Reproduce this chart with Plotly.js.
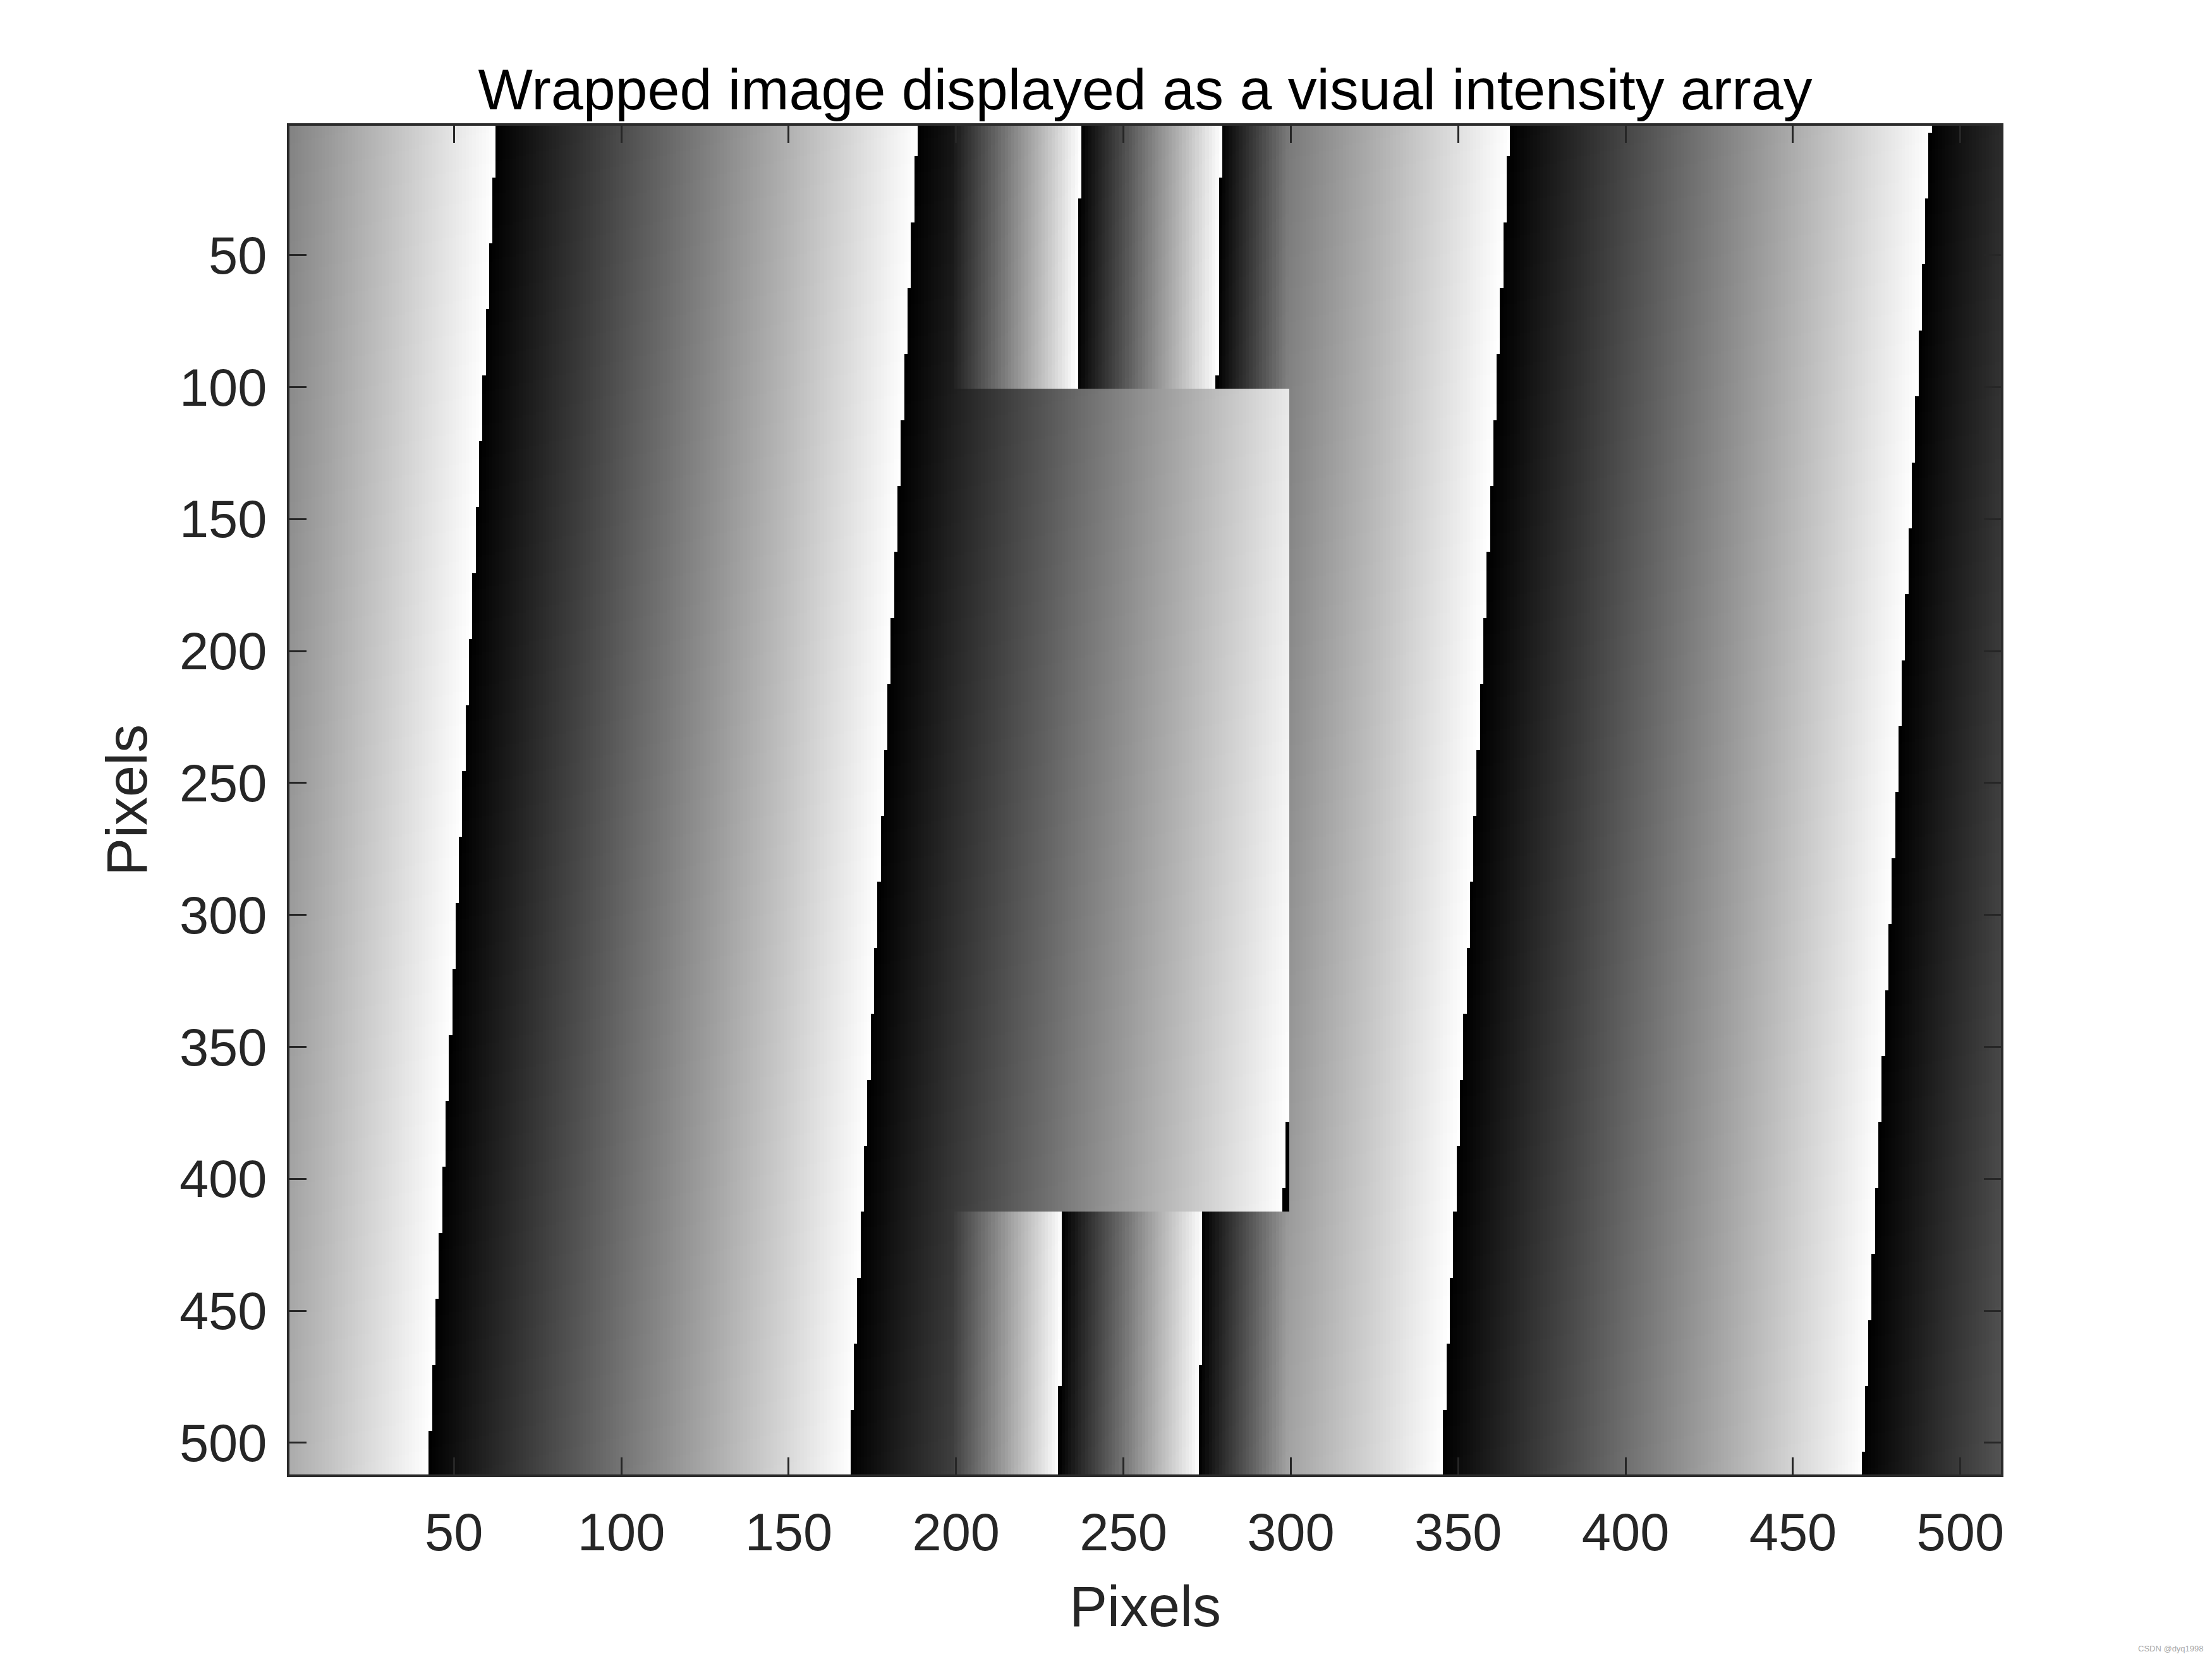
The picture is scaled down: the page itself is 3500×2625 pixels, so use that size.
<!DOCTYPE html>
<html>
<head>
<meta charset="utf-8">
<script src="https://cdn.plot.ly/plotly-3.0.1.min.js"></script>
<style>html,body{margin:0;padding:0;background:#fff}</style>
</head>
<body>
<div id="chart" style="width:3500px;height:2625px"></div>
<script>
// Tick labels
var tickValues = [50,100,150,200,250,300,350,400,450,500];
var imageSize = 512;

// Column where each black band starts at row 1, and the rows where it moves one column left.
var outer1Start = 63;
var outer1Steps = [21,46,71,96,121,146,171,196,221,246,271,296,321,346,371,396,421,446,471,496];
var outer2Start = 189;
var outer2Steps = [13,38,63,88,113,138,163,188,213,238,263,288,313,338,363,388,413,438,463,488];
var inner3Start = 238;
var inner3Steps = [29,104,179,254,329,404,479];
var inner4Start = 280;
var inner4Steps = [21,96,171,246,321,396,471];
var outer5Start = 366;
var outer5Steps = [13,38,63,88,113,138,163,188,213,238,263,288,313,338,363,388,413,438,463,488];
var outer6Start = 492;
var outer6Steps = [4,29,54,79,104,129,154,179,204,229,254,279,304,329,354,379,404,429,454,479,504];

// Patch: columns, rows, and the black sliver on its right side.
var patchCols = [200,299];
var patchRows = [101,412];
var sliverStart = 300;
var sliverSteps = [379,404];

// Band periods in columns (black to white)
var outerPeriod = 126;
var innerPeriod = 42;

// Position of a band's zero level at a row: the read stair, with the fraction
// between two read steps, so the grey levels drift with the row as in the picture.
function edgeAt(start, steps, row){
  var n = 0;
  for (var i=0;i<steps.length;i++){ if(row>=steps[i]) n++; }
  var gap = steps.length>1 ? steps[1]-steps[0] : 25;
  var last = n>0 ? steps[n-1] : steps[0]-gap;
  return {col:start-n, pos:start-n-(row-last)/gap};
}

var cols=[], rows=[], z=[];
for (var c=1;c<=imageSize;c++) cols.push(c);
for (var r=1;r<=imageSize;r++) rows.push(r);
for (var ri=0;ri<imageSize;ri++){
  var rw=ri+1;
  var e1=edgeAt(outer1Start,outer1Steps,rw), e2=edgeAt(outer2Start,outer2Steps,rw),
      e3=edgeAt(inner3Start,inner3Steps,rw), e4=edgeAt(inner4Start,inner4Steps,rw),
      e5=edgeAt(outer5Start,outer5Steps,rw), e6=edgeAt(outer6Start,outer6Steps,rw),
      sc=sliverStart, line=new Array(imageSize);
  for (var k=0;k<sliverSteps.length;k++){ if(rw>=sliverSteps[k]) sc--; }
  var inPatch = rw>=patchRows[0] && rw<=patchRows[1];
  for (var ci=0;ci<imageSize;ci++){
    var col=ci+1, v;
    if (col<e1.col) v=1-(e1.pos-col)/outerPeriod;
    else if (col<e2.col) v=(col-e1.pos)/outerPeriod;
    else if (col<patchCols[0]) v=(col-e2.pos)/outerPeriod;
    else if (col<=patchCols[1]){
      if (inPatch) v = col>=sc ? (col-sc)/outerPeriod : (col-e2.pos)/outerPeriod;
      else if (col<e3.col) v=1-(e3.pos-col)/innerPeriod;
      else if (col<e4.col) v=(col-e3.pos)/innerPeriod;
      else v=(col-e4.pos)/innerPeriod;
    }
    else if (col<e5.col) v=1-(e5.pos-col)/outerPeriod;
    else if (col<e6.col) v=(col-e5.pos)/outerPeriod;
    else v=(col-e6.pos)/outerPeriod;
    line[ci]=v;
  }
  z.push(line);
}

var axisFont = {family:'"Liberation Sans", Arial, sans-serif', size:83, color:'#262626'};
var titleFont = {family:'"Liberation Sans", Arial, sans-serif', size:90, color:'#262626'};

var trace = {
  type:'heatmap', x:cols, y:rows, z:z, zmin:0, zmax:1,
  colorscale:[[0,'#000000'],[1,'#ffffff']], showscale:false, hoverinfo:'skip'
};

var commonAxis = {
  ticks:'inside', ticklen:29, tickwidth:3, tickcolor:'#262626',
  tickmode:'array', tickvals:tickValues, ticktext:tickValues.map(String),
  tickfont:axisFont, showgrid:false, zeroline:false,
  showline:true, linewidth:0, linecolor:'#262626', mirror:'allticks', automargin:false
};

var layout = {
  width:3500, height:2625, paper_bgcolor:'#ffffff', plot_bgcolor:'#ffffff',
  margin:{l:456,r:332,t:197,b:290,pad:0},
  title:{text:'Wrapped image displayed as a visual intensity array',
         font:{family:'"Liberation Sans", Arial, sans-serif', size:91.6, color:'#000000'},
         x:0.5, xref:'paper', xanchor:'center', y:1-141/2625, yref:'container', yanchor:'middle'},
  xaxis:Object.assign({}, commonAxis, {range:[0.5,512.5], title:{text:'Pixels', font:titleFont, standoff:40}, ticklabelstandoff:17}),
  yaxis:Object.assign({}, commonAxis, {range:[512.5,0.5], title:{text:'Pixels', font:titleFont, standoff:21}, ticklabelstandoff:16}),
  shapes:[{type:'rect', xref:'paper', yref:'paper', x0:0, x1:1, y0:0, y1:1, layer:'above',
           line:{color:'#2b2b2b', width:4}, fillcolor:'rgba(0,0,0,0)'}],
  annotations:[{text:'CSDN @dyq1998', xref:'paper', yref:'paper', x:(3435-456)/2712, y:1-(2608-197)/2138,
                xanchor:'center', yanchor:'middle', showarrow:false,
                font:{family:'"Liberation Sans", Arial, sans-serif', size:13, color:'#aaaaaa'}}]
};
Plotly.newPlot('chart',[trace],layout,{displayModeBar:false,staticPlot:true});
</script>
</body>
</html>
